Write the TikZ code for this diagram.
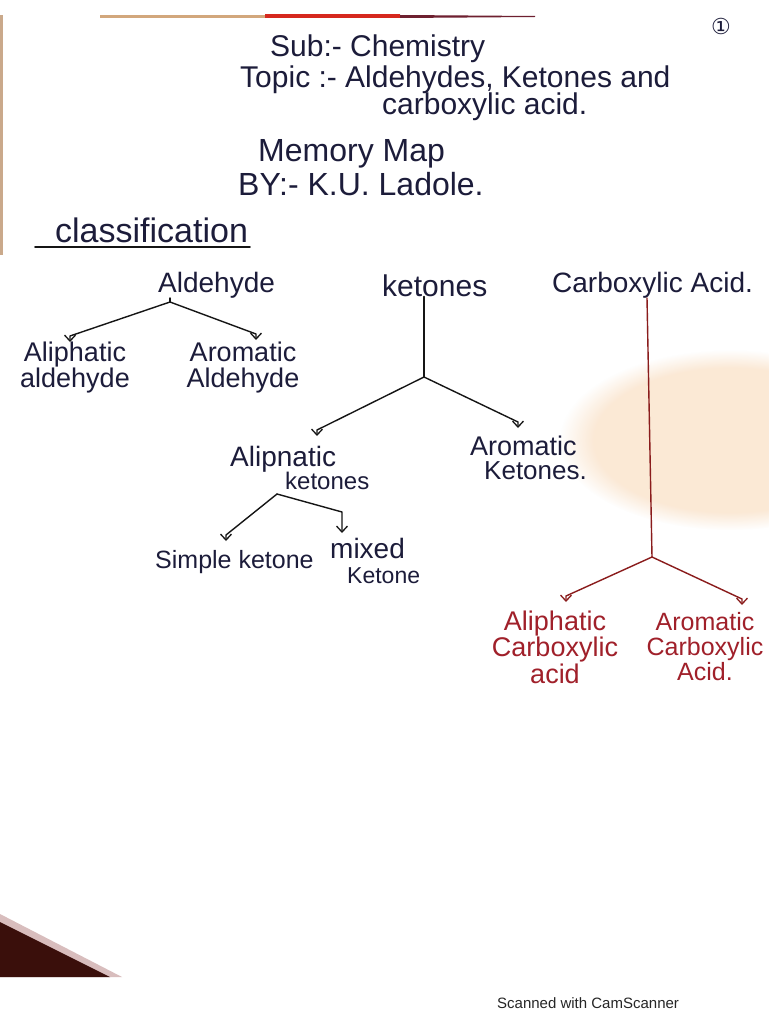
\documentclass[tikz,border=0pt]{standalone}
\usepackage{fontspec}
\setmainfont{Liberation Sans}
\newfontfamily\dejavu{DejaVu Sans}
\usetikzlibrary{arrows.meta,fadings}
\definecolor{ink}{HTML}{1C1C3A}
\definecolor{redink}{HTML}{A0202A}
\definecolor{redline}{HTML}{8A1C1C}
\definecolor{lineink}{HTML}{151515}
\definecolor{glarec}{HTML}{F5C898}
\definecolor{tanstrip}{HTML}{D2A77C}
\definecolor{redstrip}{HTML}{D6281E}
\definecolor{maroonstrip}{HTML}{6E2030}
\definecolor{edgebrown}{HTML}{A8703F}
\definecolor{darkcorner}{HTML}{3A0F0B}
\definecolor{palecorner}{HTML}{D8BDBD}
\newcommand\FF[2]{\fontsize{#1}{#2}\selectfont}
\newcommand\F[1]{\fontsize{#1}{#1}\selectfont}
\begin{document}
\begin{tikzpicture}[x=1pt,y=-1pt,
  lbl/.style={inner sep=0pt, text=ink},
  redlbl/.style={inner sep=0pt, text=redink},
  conn/.style={draw=lineink, line width=1.4pt, line join=round, line cap=round},
  redconn/.style={conn, draw=redline},
  arr/.style={-{Straight Barb[length=6pt,width=11pt,line width=1.3pt]}},
]
\useasboundingbox (0,0) rectangle (768,1024);
\fill[white] (0,0) rectangle (768,1024);

% scan artefacts
\fill[tanstrip] (100,15.5) rectangle (265,18);
\fill[redstrip] (265,14.5) rectangle (400,18);
\fill[maroonstrip] (400,15) -- (535,16) -- (535,17) -- (400,18) -- cycle;
\fill[edgebrown, opacity=0.6] (0,15) rectangle (3,255);
\fill[glarec, fill opacity=0.4, path fading=circle with fuzzy edge 20 percent]
  (730,440) ellipse [x radius=170, y radius=90];
\fill[palecorner] (0,914) -- (122,977) -- (0,977) -- cycle;
\fill[darkcorner] (0,922) -- (110,977) -- (0,977) -- cycle;

% header
\node[lbl, font=\dejavu\F{22}] (pg) at (721,26) {①};
\node[lbl, anchor=base west, font=\F{30}] (sub) at (270,57) {Sub:- Chemistry};
\node[lbl, anchor=base west, font=\F{30}] (topic) at (240,88) {Topic :- Aldehydes, Ketones and};
\node[lbl, anchor=base west, font=\F{30}] (topic2) at (382,115) {carboxylic acid.};
\node[lbl, anchor=base west, font=\F{32}] (memo) at (258,162) {Memory Map};
\node[lbl, anchor=base west, font=\F{32}] (by) at (238,196) {BY:- K.U. Ladole.};
\node[lbl, anchor=base west, font=\F{34}] (cls) at (55,243) {classification};
\coordinate (ulA) at (35,247);
\coordinate (ulB) at (250,247);
\draw[conn, line width=1.8pt] (ulA) -- (ulB);

% Aldehyde branch
\node[lbl, anchor=base west, font=\F{28}] (ald) at (158,292) {Aldehyde};
\node[lbl, anchor=north, align=center, font=\FF{27}{26}] (alal) at (75,342) {Aliphatic\\aldehyde};
\node[lbl, anchor=north, align=center, font=\FF{27}{26}] (aral) at (243,342) {Aromatic\\Aldehyde};
\coordinate (ab) at (170,302);
\coordinate (aldL) at (70,336);
\coordinate (aldR) at (256,334);
\draw[conn] (ab |- ald.south) -- (ab);
\draw[conn, arr] (ab) -- (aldL) -- ++(0,6);
\draw[conn, arr] (ab) -- (aldR) -- ++(0,6);

% Ketones branch
\node[lbl, anchor=base west, font=\F{30}] (ket) at (382,296) {ketones};
\coordinate (kb) at (424,377);
\coordinate (ketL) at (317,430);
\coordinate (ketR) at (518,422);
\draw[conn] (kb |- ket.south) -- (kb);
\draw[conn, arr] (kb) -- (ketL) -- ++(0,6);
\draw[conn, arr] (kb) -- (ketR) -- ++(0,6);
\node[lbl, anchor=north west, align=left, font=\FF{28}{18}] (alk) at (230,446)
  {Alipnatic\\[-1pt]\hspace*{55pt}{\F{24}ketones}};
\node[lbl, anchor=north west, align=left, font=\FF{27}{24}] (arket) at (470,436)
  {Aromatic\\\hspace*{14pt}{\F{26}Ketones.}};

% Aliphatic ketones sub-branch
\coordinate (akb) at (277,494);
\coordinate (skt) at (226,535);
\coordinate (mkb) at (342,512);
\coordinate (mkt) at (342,533);
\draw[conn, arr] (akb) -- (skt) -- ++(0,6);
\draw[conn, arr] (akb) -- (mkb) -- (mkt);
\node[lbl, anchor=base west, font=\F{25}] (sk) at (155,568) {Simple ketone};
\node[lbl, anchor=north west, align=left, font=\FF{28}{25}] (mk) at (330,538)
  {mixed\\\hspace*{17pt}{\F{23}Ketone}};

% Carboxylic acid branch
\node[lbl, anchor=base west, font=\F{28}] (cooh) at (552,292) {Carboxylic Acid.};
\coordinate (cv) at (647,297);
\coordinate (cb) at (652,557);
\coordinate (cL) at (566,596);
\coordinate (cR) at (742,599);
\draw[redconn] (cv |- cooh.south) -- (cb);
\draw[redconn, arr] (cb) -- (cL) -- ++(0,6);
\draw[redconn, arr] (cb) -- (cR) -- ++(0,6);
\node[redlbl, anchor=north, align=center, font=\FF{27}{25}] (alc) at (555,611)
  {Aliphatic\\Carboxylic\\acid};
\node[redlbl, anchor=north, align=center, font=\FF{25}{25}] (arc) at (705,612)
  {Aromatic\\Carboxylic\\Acid.};

% footer
\node[inner sep=0pt, anchor=base west, text=black!85, font=\F{15}] (scan) at (497,1008) {Scanned with CamScanner};
\end{tikzpicture}
\end{document}
